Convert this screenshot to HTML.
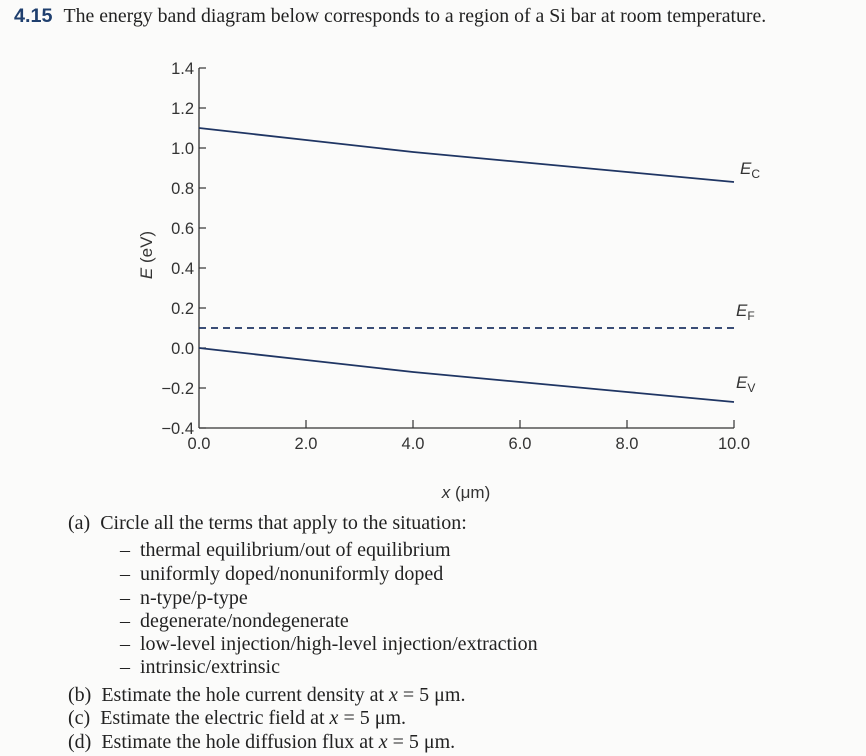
<!DOCTYPE html>
<html><head><meta charset="utf-8">
<style>
html,body{margin:0;padding:0;background:#fbfbfa;}
body{width:866px;height:756px;position:relative;overflow:hidden;}
.serif{font-family:"Liberation Serif",serif;color:#222;}
.t{position:absolute;white-space:nowrap;font-size:20px;}
</style></head>
<body>
<div class="t serif" style="left:14px;top:5px;font-size:19.8px;">
<span style="font-family:'Liberation Sans',sans-serif;font-weight:bold;color:#1f3f6e;margin-right:11px;">4.15</span>The energy band diagram below corresponds to a region of a Si bar at room temperature.</div>

<svg id="chart" width="866" height="510" style="position:absolute;left:0;top:0;" font-family="Liberation Sans, sans-serif"></svg>

<div class="t serif" style="left:68px;top:512px;">(a)&nbsp;&nbsp;Circle all the terms that apply to the situation:</div>
<div class="t serif" style="left:120px;top:539px;">–&nbsp; thermal equilibrium/out of equilibrium</div>
<div class="t serif" style="left:120px;top:563px;">–&nbsp; uniformly doped/nonuniformly doped</div>
<div class="t serif" style="left:120px;top:587px;">–&nbsp; n-type/p-type</div>
<div class="t serif" style="left:120px;top:610px;">–&nbsp; degenerate/nondegenerate</div>
<div class="t serif" style="left:120px;top:633px;">–&nbsp; low-level injection/high-level injection/extraction</div>
<div class="t serif" style="left:120px;top:656px;">–&nbsp; intrinsic/extrinsic</div>
<div class="t serif" style="left:68px;top:684px;">(b)&nbsp;&nbsp;Estimate the hole current density at <i>x</i> = 5 μm.</div>
<div class="t serif" style="left:68px;top:707px;">(c)&nbsp;&nbsp;Estimate the electric field at <i>x</i> = 5 μm.</div>
<div class="t serif" style="left:68px;top:731px;">(d)&nbsp;&nbsp;Estimate the hole diffusion flux at <i>x</i> = 5 μm.</div>

<script>
const xValues = [0, 2, 4, 6, 8, 10];
const evValues = [0, -0.06, -0.12, -0.17, -0.22, -0.27];
const ecValues = [1.10, 1.04, 0.98, 0.93, 0.88, 0.83];
const efValues = [0.10, 0.10];
const efX = [0, 10];
const yTicks = [1.4, 1.2, 1.0, 0.8, 0.6, 0.4, 0.2, 0.0, -0.2, -0.4];
const yTickLabels = ["1.4","1.2","1.0","0.8","0.6","0.4","0.2","0.0","\u22120.2","\u22120.4"];
const xTicks = [0, 2, 4, 6, 8, 10];
const xTickLabels = ["0.0","2.0","4.0","6.0","8.0","10.0"];

const svg = document.getElementById('chart');
const NS = 'http://www.w3.org/2000/svg';
const X0 = 199, X1 = 734, YT = 68, YB = 428;
function sx(v){ return X0 + (v - 0) / 10 * (X1 - X0); }
function sy(v){ return YB - (v - (-0.4)) / 1.8 * (YB - YT); }
function mk(tag, attrs){ const e = document.createElementNS(NS, tag); for (const k in attrs) e.setAttribute(k, attrs[k]); svg.appendChild(e); return e; }
const ink = '#333';

let e = mk('line',{x1:X0,y1:YT,x2:X0,y2:YB,stroke:ink,'stroke-width':1.3});


e = mk('line',{x1:X0,y1:YB,x2:X1,y2:YB,stroke:ink,'stroke-width':1.3});



yTicks.forEach((v,i)=>{
  const y = sy(v);
  const t = mk('line',{x1: X0+7, y1:y, x2: X0, y2:y, stroke:ink,'stroke-width':1.2});
  
  
  const l = mk('text',{x: X0-5,y:y+6,'text-anchor':'end','font-size':16.5,fill:'#333'});
  l.textContent = yTickLabels[i];
  
  
});
xTicks.forEach((v,i)=>{
  const x = sx(v);
  if (i>0){
    const t = mk('line',{x1:x,y1:YB,x2:x,y2:YB-8,stroke:ink,'stroke-width':1.2});
    
    
  }
  const l = mk('text',{x:x,y:YB+21,'text-anchor':'middle','font-size':16.5,fill:'#333'});
  l.textContent = xTickLabels[i];
  
  
});

let yt = mk('text',{x:0,y:0,'text-anchor':'middle','font-size':17,fill:'#333',transform:'translate(152,255) rotate(-90)'});
yt.innerHTML = '<tspan font-style="italic">E</tspan> (eV)';


let xt = mk('text',{x:466,y:498,'text-anchor':'middle','font-size':17,fill:'#333'});
xt.innerHTML = '<tspan font-style="italic">x</tspan> (μm)';



function poly(xs, ys){ return xs.map((x,i)=>sx(x).toFixed(1)+','+sy(ys[i]).toFixed(1)).join(' '); }
let ec = mk('polyline',{points:poly(xValues,ecValues),fill:'none',stroke:'#1f3563','stroke-width':1.8});


let ev = mk('polyline',{points:poly(xValues,evValues),fill:'none',stroke:'#1f3563','stroke-width':1.8});


let ef = mk('polyline',{points:poly(efX,efValues),fill:'none',stroke:'#1f3563','stroke-width':1.8,'stroke-dasharray':'7,5'});



function lab(name, sub, x, y, dname){
  const t = mk('text',{x:x,y:y,'font-size':17,fill:'#333'});
  t.innerHTML = '<tspan font-style="italic">'+name+'</tspan><tspan font-size="12" dy="4">'+sub+'</tspan>';
  
  
}
lab('E','C', sx(10)+6, sy(ecValues[ecValues.length-1])-8, 'ec-label');
lab('E','F', sx(10)+2, sy(efValues[1])-12, 'ef-label');
lab('E','V', sx(10)+2, sy(evValues[evValues.length-1])-14, 'ev-label');
</script>
</body></html>
